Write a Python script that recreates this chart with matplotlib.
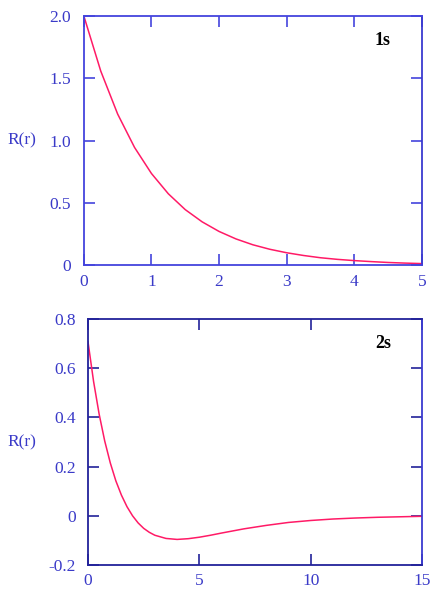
import numpy as np
import matplotlib.pyplot as plt

# values
r_1s = [0, 0.25, 0.5, 0.75, 1.0, 1.25, 1.5, 1.75, 2.0, 2.25, 2.5, 2.75,
        3.0, 3.25, 3.5, 3.75, 4.0, 4.25, 4.5, 4.75, 5.0]
R_1s = [2.0, 1.558, 1.213, 0.945, 0.736, 0.573, 0.446, 0.348, 0.271, 0.211,
        0.164, 0.128, 0.100, 0.078, 0.060, 0.047, 0.037, 0.029, 0.022, 0.017, 0.013]

r_2s = [0, 0.25, 0.5, 0.75, 1.0, 1.25, 1.5, 1.75, 2.0, 2.25, 2.5, 2.75, 3.0,
        3.5, 4.0, 4.5, 5.0, 5.5, 6.0, 7.0, 8.0, 9.0, 10.0, 11.0, 12.0, 13.0, 14.0, 15.0]
R_2s = [0.707, 0.546, 0.413, 0.304, 0.215, 0.142, 0.084, 0.037, 0.0, -0.029,
        -0.051, -0.067, -0.079, -0.092, -0.096, -0.093, -0.087, -0.079, -0.070,
        -0.053, -0.039, -0.027, -0.019, -0.013, -0.009, -0.006, -0.004, -0.002]

x_ticks_1s = [0, 1, 2, 3, 4, 5]
y_ticks_1s = [0, 0.5, 1.0, 1.5, 2.0]
y_labels_1s = ['0', '0.5', '1.0', '1.5', '2.0']
x_ticks_2s = [0, 5, 10, 15]
y_ticks_2s = [-0.2, 0, 0.2, 0.4, 0.6, 0.8]
y_labels_2s = ['-0.2', '0', '0.2', '0.4', '0.6', '0.8']

plt.rcParams['font.family'] = ['Liberation Serif', 'DejaVu Serif']
text_col = '#3a3ac8'
curve_col = '#ff1a66'

fig = plt.figure(figsize=(4.39, 5.92), dpi=100)
ax1 = fig.add_axes([0.191, 0.552, 0.770, 0.421])
ax2 = fig.add_axes([0.2005, 0.0456, 0.761, 0.4155])

panels = [
    (ax1, r_1s, R_1s, x_ticks_1s, y_ticks_1s, y_labels_1s, (0, 5), (0, 2.0), '1s', '#4444dd', -0.183),
    (ax2, r_2s, R_2s, x_ticks_2s, y_ticks_2s, y_labels_2s, (0, 15), (-0.2, 0.8), '2s', '#22229a', -0.198),
]

for ax, r, R, xt, yt, yl, xlim, ylim, name, spine_col, lab_x in panels:
    ax.plot(r, R, color=curve_col, lw=1.1)
    ax.set_xlim(*xlim)
    ax.set_ylim(*ylim)
    ax.set_xticks(xt)
    ax.set_xticklabels([str(v) for v in xt])
    ax.set_yticks(yt)
    ax.set_yticklabels(yl)
    ax.tick_params(direction='in', length=8, width=1.2, top=True, right=True,
                   colors=spine_col, labelcolor=text_col, labelsize=12.5)
    ax.tick_params(axis='y', pad=9)
    ax.tick_params(axis='x', pad=6)
    for s in ax.spines.values():
        s.set_color(spine_col)
        s.set_linewidth(1.3)
    ax.spines['right'].set_color('#3a3ad0')
    ax.set_ylabel('R(r)', rotation=0, color=text_col, fontsize=12.5, ha='center', va='center')
    ax.yaxis.set_label_coords(lab_x, 0.5)
    ax.text(0.885, 0.9, name, transform=ax.transAxes, fontsize=13, fontweight='bold',
            color='black', ha='center', va='center')

fig.savefig('out.png', dpi=100)
